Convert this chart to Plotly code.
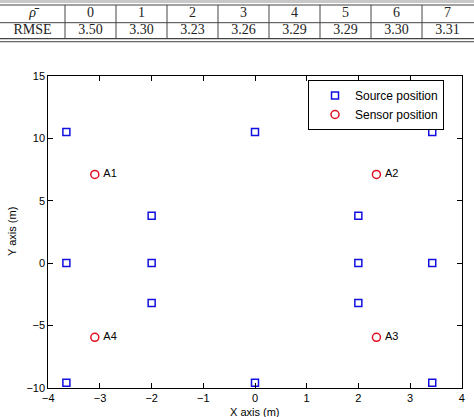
import plotly.graph_objects as go

# table values
rho_labels = ["0", "1", "2", "3", "4", "5", "6", "7"]
rmse_values = [3.50, 3.30, 3.23, 3.26, 3.29, 3.29, 3.30, 3.31]

# source positions (m)
source_x = [-3.65, 0.0, 3.43, -2.0, 2.0, -3.65, -2.0, 2.0, 3.43, -2.0, 2.0, -3.65, 0.0, 3.43]
source_y = [10.5, 10.5, 10.5, 3.8, 3.8, 0.0, 0.0, 0.0, 0.0, -3.2, -3.2, -9.6, -9.6, -9.6]

# sensor positions (m)
sensor_names = ["A1", "A2", "A3", "A4"]
sensor_x = [-3.1, 2.35, 2.35, -3.1]
sensor_y = [7.1, 7.1, -5.95, -5.95]

W, H = 474, 417
SANS = "Liberation Sans, Arial, sans-serif"
SERIF = "Liberation Serif, Times New Roman, serif"

fig = go.Figure()

# ---- scatter plot ----
fig.add_scatter(
    x=source_x, y=source_y, mode="markers", name="Source position",
    marker=dict(symbol="square-open", size=7, color="#1010e0", line=dict(width=1.5)),
)
fig.add_scatter(
    x=sensor_x, y=sensor_y, mode="markers", name="Sensor position",
    marker=dict(symbol="circle-open", size=8, color="#e01020", line=dict(width=1.5)),
)
# labels next to the sensors (invisible marker gives the text its offset)
fig.add_scatter(
    x=sensor_x, y=sensor_y, mode="markers+text", text=sensor_names,
    textposition="middle right", showlegend=False, hoverinfo="skip",
    marker=dict(size=12, opacity=0),
    textfont=dict(family=SANS, size=11, color="black"),
)

# ---- table on a second pair of pixel-like axes ----
first_w, col_w = 65, 51
row1_y, row2_y = 13.5, 30.5
centers = [first_w + col_w * (i + 0.5) for i in range(len(rho_labels))]

fig.add_scatter(
    x=[first_w / 2] + centers, y=[row1_y] * (len(rho_labels) + 1),
    text=["<i>ρ̄</i>"] + rho_labels, mode="text", showlegend=False,
    xaxis="x2", yaxis="y2", hoverinfo="skip",
    textfont=dict(family=SERIF, size=14, color="#222"),
)
fig.add_scatter(
    x=[first_w / 2] + centers, y=[row2_y] * (len(rmse_values) + 1),
    text=["RMSE"] + [f"{v:.2f}" for v in rmse_values], mode="text", showlegend=False,
    xaxis="x2", yaxis="y2", hoverinfo="skip",
    textfont=dict(family=SERIF, size=14, color="#222"),
)

shapes = []
# top gray band and rules
shapes.append(dict(type="rect", xref="x2", yref="y2", x0=0, x1=W, y0=0, y1=3,
                   fillcolor="#c8c8c8", line=dict(width=0), layer="below"))
for yy, lw, col in [(5, 1.2, "#444"), (22.7, 1, "#444"), (38.7, 1.2, "#444"), (41.7, 1.2, "#666")]:
    shapes.append(dict(type="line", xref="x2", yref="y2", x0=0, x1=W, y0=yy, y1=yy,
                       line=dict(color=col, width=lw)))
for i in range(len(rho_labels)):
    xx = first_w + col_w * i
    shapes.append(dict(type="line", xref="x2", yref="y2", x0=xx, x1=xx, y0=5, y1=38.7,
                       line=dict(color="#444", width=1)))

axis_common = dict(
    showline=True, linecolor="black", linewidth=1, mirror="ticks",
    ticks="inside", ticklen=5, tickcolor="black", showgrid=False, zeroline=False,
    tickfont=dict(family=SANS, size=11, color="black"), automargin=False,
)

fig.update_layout(
    width=W, height=H,
    margin=dict(l=0, r=0, t=0, b=0),
    plot_bgcolor="white", paper_bgcolor="white",
    font=dict(family=SANS, size=11, color="black"),
    shapes=shapes,
    xaxis=dict(
        domain=[48.3 / W, 461.7 / W], range=[-4, 4], dtick=1, tick0=-4,
        **axis_common,
    ),
    yaxis=dict(
        domain=[(H - 387.8) / H, (H - 75.9) / H], range=[-10, 15], dtick=5, tick0=-10,
        **axis_common,
    ),
    xaxis2=dict(domain=[0, 1], range=[0, W], visible=False, fixedrange=True,
                automargin=False),
    yaxis2=dict(domain=[1 - 50 / H, 1], range=[50, 0], visible=False, fixedrange=True,
                anchor="x2", automargin=False),
    legend=dict(
        x=444 / W, y=(H - 80) / H, xanchor="right", yanchor="top",
        bordercolor="black", borderwidth=1, bgcolor="white",
        font=dict(family=SANS, size=12), indentation=6,
        tracegroupgap=0,
    ),
    annotations=[
        dict(text="X axis (m)", xref="paper", yref="paper", x=255 / W, y=(H - 411.5) / H,
             xanchor="center", yanchor="middle", showarrow=False,
             font=dict(family=SANS, size=11)),
        dict(text="Y axis (m)", xref="paper", yref="paper", x=12 / W, y=(H - 232) / H,
             xanchor="center", yanchor="middle", showarrow=False, textangle=-90,
             font=dict(family=SANS, size=11)),
    ],
)

fig.write_html(
    "out.html",
    config={"displayModeBar": False},
    post_script="document.body.style.margin='0';document.body.style.overflow='hidden';",
)
